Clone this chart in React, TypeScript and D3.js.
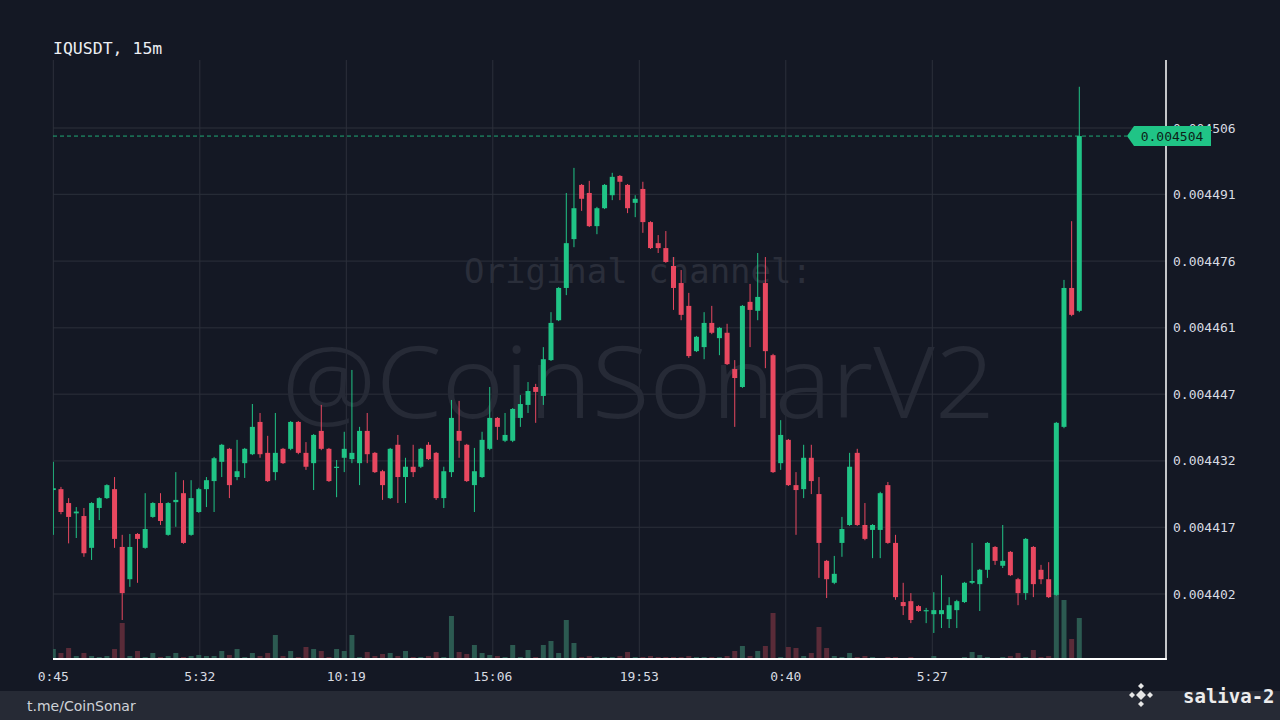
import React from "react";
import * as d3 from "d3";

// ---------------- data ----------------
const symbolTitle = "IQUSDT, 15m";
const startTime = "2024-01-01T00:45:00Z";
const intervalMinutes = 15;

const opens = [
  4425.2e-6, 4425.4e-6, 4422.3e-6, 4420.0e-6, 4419.4e-6, 4412.3e-6, 4421.2e-6, 4423.4e-6, 4425.4e-6, 4412.5e-6,
  4405.3e-6, 4415.4e-6, 4412.3e-6, 4419.2e-6, 4422.3e-6, 4415.2e-6, 4422.5e-6, 4424.5e-6, 4415.2e-6, 4420.3e-6,
  4425.4e-6, 4427.2e-6, 4431.5e-6, 4434.4e-6, 4428.1e-6, 4431.2e-6, 4433.2e-6, 4440.4e-6, 4433.5e-6, 4429.2e-6,
  4434.4e-6, 4434.4e-6, 4440.4e-6, 4433.5e-6, 4431.2e-6, 4438.4e-6, 4434.4e-6, 4430.3e-6, 4432.4e-6, 4432.1e-6,
  4431.2e-6, 4438.4e-6, 4433.5e-6, 4429.4e-6, 4423.4e-6, 4435.3e-6, 4428.1e-6, 4430.4e-6, 4430.4e-6, 4435.3e-6,
  4433.5e-6, 4423.4e-6, 4429.2e-6, 4438.4e-6, 4435.3e-6, 4426.3e-6, 4428.1e-6, 4434.4e-6, 4441.3e-6, 4436.2e-6,
  4436.2e-6, 4441.3e-6, 4444.2e-6, 4448.2e-6, 4446.2e-6, 4454.2e-6, 4463.1e-6, 4470.3e-6, 4481.2e-6, 4493.3e-6,
  4491.5e-6, 4484.1e-6, 4488.1e-6, 4491.0e-6, 4495.3e-6, 4493.3e-6, 4489.3e-6, 4492.4e-6, 4485.0e-6, 4480.3e-6,
  4479.2e-6, 4475.2e-6, 4471.4e-6, 4466.3e-6, 4456.2e-6, 4457.1e-6, 4462.5e-6, 4459.1e-6, 4460.3e-6, 4452.2e-6,
  4448.2e-6, 4467.2e-6, 4465.2e-6, 4471.4e-6, 4455.3e-6, 4431.2e-6, 4436.4e-6, 4426.3e-6, 4425.4e-6, 4432.4e-6,
  4424.3e-6, 4409.4e-6, 4404.5e-6, 4413.4e-6, 4417.4e-6, 4433.5e-6, 4417.4e-6, 4416.3e-6, 4416.3e-6, 4426.3e-6,
  4413.4e-6, 4400.2e-6, 4400.4e-6, 4399.3e-6, 4398.2e-6, 4397.5e-6, 4397.5e-6, 4396.4e-6, 4398.4e-6, 4400.2e-6,
  4404.5e-6, 4404.2e-6, 4407.4e-6, 4412.5e-6, 4408.3e-6, 4411.4e-6, 4405.3e-6, 4402.2e-6, 4412.5e-6, 4407.4e-6,
  4405.3e-6, 4401.8e-6, 4439.3e-6, 4470.3e-6, 4465.2e-6,
];

const highs = [
  4431.5e-6, 4425.9e-6, 4423.4e-6, 4421.4e-6, 4421.2e-6, 4422.5e-6, 4423.6e-6, 4426.5e-6, 4428.1e-6, 4415.2e-6,
  4415.4e-6, 4415.6e-6, 4424.5e-6, 4422.5e-6, 4424.5e-6, 4422.5e-6, 4429.2e-6, 4427.4e-6, 4427.4e-6, 4425.7e-6,
  4428.1e-6, 4432.6e-6, 4435.5e-6, 4434.6e-6, 4436.4e-6, 4434.6e-6, 4444.4e-6, 4442.4e-6, 4437.3e-6, 4442.4e-6,
  4434.6e-6, 4440.6e-6, 4440.6e-6, 4435.9e-6, 4437.7e-6, 4444.2e-6, 4434.6e-6, 4431.9e-6, 4438.2e-6, 4452.0e-6,
  4439.3e-6, 4442.4e-6, 4433.7e-6, 4429.7e-6, 4434.6e-6, 4437.5e-6, 4432.4e-6, 4435.3e-6, 4434.6e-6, 4435.9e-6,
  4433.7e-6, 4430.4e-6, 4445.3e-6, 4445.1e-6, 4435.5e-6, 4434.6e-6, 4438.2e-6, 4448.2e-6, 4441.5e-6, 4442.4e-6,
  4443.5e-6, 4446.4e-6, 4449.3e-6, 4448.9e-6, 4457.1e-6, 4464.9e-6, 4470.5e-6, 4491.5e-6, 4497.1e-6, 4493.5e-6,
  4494.2e-6, 4488.4e-6, 4493.5e-6, 4496.0e-6, 4495.5e-6, 4493.5e-6, 4491.0e-6, 4494.0e-6, 4485.2e-6, 4482.1e-6,
  4483.0e-6, 4477.2e-6, 4474.3e-6, 4469.2e-6, 4459.6e-6, 4464.9e-6, 4466.3e-6, 4461.6e-6, 4462.3e-6, 4454.2e-6,
  4466.5e-6, 4471.2e-6, 4478.1e-6, 4477.2e-6, 4455.6e-6, 4440.8e-6, 4436.6e-6, 4429.2e-6, 4435.3e-6, 4435.3e-6,
  4428.1e-6, 4409.6e-6, 4410.5e-6, 4419.2e-6, 4433.5e-6, 4434.4e-6, 4422.3e-6, 4417.6e-6, 4424.8e-6, 4427.0e-6,
  4415.2e-6, 4404.5e-6, 4402.2e-6, 4399.5e-6, 4398.9e-6, 4402.4e-6, 4406.2e-6, 4401.3e-6, 4400.7e-6, 4404.7e-6,
  4413.4e-6, 4407.6e-6, 4413.6e-6, 4412.7e-6, 4417.4e-6, 4411.6e-6, 4405.6e-6, 4414.5e-6, 4412.7e-6, 4408.5e-6,
  4409.1e-6, 4440.4e-6, 4472.1e-6, 4485.2e-6, 4515.2e-6,
];

const lows = [
  4415.2e-6, 4419.8e-6, 4413.3e-6, 4414.5e-6, 4410.3e-6, 4409.6e-6, 4418.5e-6, 4423.2e-6, 4412.3e-6, 4396.2e-6,
  4403.6e-6, 4404.5e-6, 4412.1e-6, 4419.0e-6, 4417.4e-6, 4415.0e-6, 4417.0e-6, 4413.2e-6, 4415.0e-6, 4420.1e-6,
  4421.4e-6, 4420.3e-6, 4428.1e-6, 4423.4e-6, 4427.4e-6, 4427.9e-6, 4433.0e-6, 4432.4e-6, 4427.0e-6, 4427.4e-6,
  4431.0e-6, 4434.1e-6, 4433.2e-6, 4429.7e-6, 4425.2e-6, 4434.1e-6, 4427.0e-6, 4423.6e-6, 4429.2e-6, 4431.2e-6,
  4426.3e-6, 4431.2e-6, 4429.0e-6, 4423.0e-6, 4423.2e-6, 4422.3e-6, 4422.3e-6, 4428.1e-6, 4430.1e-6, 4431.9e-6,
  4423.0e-6, 4421.2e-6, 4428.1e-6, 4432.4e-6, 4427.0e-6, 4420.3e-6, 4427.9e-6, 4434.1e-6, 4436.4e-6, 4435.9e-6,
  4435.9e-6, 4439.3e-6, 4442.4e-6, 4440.2e-6, 4444.2e-6, 4454.0e-6, 4462.9e-6, 4468.7e-6, 4479.4e-6, 4487.5e-6,
  4483.9e-6, 4482.3e-6, 4487.9e-6, 4489.9e-6, 4489.9e-6, 4487.0e-6, 4486.1e-6, 4482.6e-6, 4479.0e-6, 4478.1e-6,
  4475.9e-6, 4465.4e-6, 4463.1e-6, 4454.7e-6, 4456.0e-6, 4454.4e-6, 4460.0e-6, 4455.3e-6, 4453.1e-6, 4439.3e-6,
  4448.0e-6, 4457.1e-6, 4463.1e-6, 4452.4e-6, 4429.0e-6, 4429.7e-6, 4426.1e-6, 4415.2e-6, 4423.4e-6, 4424.3e-6,
  4405.6e-6, 4401.1e-6, 4404.2e-6, 4410.3e-6, 4417.2e-6, 4417.2e-6, 4414.0e-6, 4410.0e-6, 4410.0e-6, 4413.2e-6,
  4400.7e-6, 4397.3e-6, 4395.5e-6, 4398.0e-6, 4395.5e-6, 4393.3e-6, 4394.4e-6, 4394.4e-6, 4394.4e-6, 4400.0e-6,
  4404.2e-6, 4398.2e-6, 4405.6e-6, 4408.5e-6, 4407.8e-6, 4406.0e-6, 4399.5e-6, 4400.7e-6, 4401.3e-6, 4404.2e-6,
  4401.1e-6, 4401.6e-6, 4439.0e-6, 4464.0e-6, 4464.9e-6,
];

const closes = [
  4425.6e-6, 4420.3e-6, 4419.2e-6, 4420.4e-6, 4411.1e-6, 4422.3e-6, 4423.4e-6, 4426.3e-6, 4414.3e-6, 4402.2e-6,
  4412.5e-6, 4414.3e-6, 4416.5e-6, 4422.3e-6, 4418.3e-6, 4422.3e-6, 4423.0e-6, 4413.4e-6, 4423.4e-6, 4425.4e-6,
  4427.4e-6, 4432.3e-6, 4435.3e-6, 4426.3e-6, 4429.4e-6, 4434.4e-6, 4439.3e-6, 4433.2e-6, 4427.2e-6, 4433.5e-6,
  4431.2e-6, 4440.4e-6, 4433.5e-6, 4430.4e-6, 4437.5e-6, 4434.4e-6, 4427.2e-6, 4430.4e-6, 4434.4e-6, 4433.5e-6,
  4438.4e-6, 4433.2e-6, 4429.2e-6, 4426.3e-6, 4434.4e-6, 4428.1e-6, 4430.4e-6, 4429.2e-6, 4434.4e-6, 4432.1e-6,
  4423.4e-6, 4429.4e-6, 4441.3e-6, 4436.2e-6, 4427.2e-6, 4429.4e-6, 4436.4e-6, 4441.3e-6, 4439.3e-6, 4437.5e-6,
  4443.3e-6, 4444.4e-6, 4447.3e-6, 4447.1e-6, 4454.4e-6, 4462.5e-6, 4470.3e-6, 4480.3e-6, 4488.1e-6, 4490.2e-6,
  4484.1e-6, 4488.1e-6, 4493.3e-6, 4495.1e-6, 4494.0e-6, 4488.1e-6, 4490.2e-6, 4485.0e-6, 4479.2e-6, 4479.2e-6,
  4476.1e-6, 4470.3e-6, 4464.3e-6, 4455.1e-6, 4459.4e-6, 4462.5e-6, 4460.3e-6, 4461.4e-6, 4453.3e-6, 4450.2e-6,
  4466.3e-6, 4465.4e-6, 4468.3e-6, 4456.2e-6, 4429.2e-6, 4437.5e-6, 4426.3e-6, 4425.2e-6, 4432.4e-6, 4427.2e-6,
  4413.4e-6, 4405.3e-6, 4406.5e-6, 4416.5e-6, 4430.4e-6, 4417.4e-6, 4414.3e-6, 4417.4e-6, 4424.5e-6, 4413.4e-6,
  4401.3e-6, 4399.3e-6, 4396.2e-6, 4398.2e-6, 4398.4e-6, 4398.4e-6, 4398.4e-6, 4399.5e-6, 4400.4e-6, 4404.5e-6,
  4404.9e-6, 4407.4e-6, 4413.4e-6, 4409.4e-6, 4409.4e-6, 4406.2e-6, 4402.2e-6, 4414.3e-6, 4404.2e-6, 4405.3e-6,
  4401.3e-6, 4440.2e-6, 4470.3e-6, 4464.3e-6, 4504.2e-6,
];

const volumes = [
  100, 60, 110, 30, 60, 30, 20, 30, 100, 360,
  30, 80, 20, 60, 20, 30, 60, 20, 30, 40,
  30, 30, 80, 40, 100, 20, 60, 30, 60, 240,
  30, 80, 20, 120, 100, 80, 20, 100, 80, 240,
  20, 70, 30, 50, 60, 30, 80, 20, 20, 30,
  70, 20, 430, 70, 50, 140, 60, 40, 30, 20,
  140, 20, 90, 20, 140, 180, 60, 390, 160, 20,
  30, 20, 20, 20, 30, 70, 20, 20, 30, 20,
  20, 20, 20, 30, 20, 20, 20, 20, 30, 80,
  130, 30, 80, 130, 460, 20, 120, 110, 30, 60,
  320, 110, 30, 20, 60, 20, 30, 20, 10, 20,
  20, 10, 20, 10, 10, 30, 10, 10, 10, 20,
  70, 40, 20, 10, 20, 30, 60, 20, 90, 20,
  30, 670, 590, 200, 410,
];

const priceTicks = [0.004402, 0.0044169, 0.0044317, 0.0044466, 0.0044614, 0.0044763, 0.0044912, 0.004506];
const timeTicks = [
  "2024-01-01T00:45:00Z",
  "2024-01-01T05:32:00Z",
  "2024-01-01T10:19:00Z",
  "2024-01-01T15:06:00Z",
  "2024-01-01T19:53:00Z",
  "2024-01-02T00:40:00Z",
  "2024-01-02T05:27:00Z",
];
const watermarkSmall = "Original channel:";
const watermarkLarge = "@CoinSonarV2";
const footerLink = "t.me/CoinSonar";
const footerBrand = "saliva-2";

// ---------------- style ----------------
const W = 1280;
const H = 720;
const BG = "#141824";
const FOOTER_BG = "#262a35";
const GRID = "#2c303b";
const UP = "#20c486";
const DOWN = "#e84860";
const UP_VOL = "#2c5a51";
const DOWN_VOL = "#5a2b38";
const TEXT = "#d8dbe2";
const MONO = "'DejaVu Sans Mono', 'Liberation Mono', monospace";

const plotLeft = 53;
const plotRight = 1166;
const plotTop = 60;
const plotBottom = 659;

export default function App() {
  const t0 = new Date(startTime).getTime();
  const times = opens.map((_, i) => new Date(t0 + i * intervalMinutes * 60000));
  const x = d3.scaleTime().domain([times[0], times[times.length - 1]]).range([53.3, 1079.3]);
  const y = d3.scaleLinear().domain([priceTicks[0], priceTicks[priceTicks.length - 1]]).range([594, 128]);
  const yVol = d3.scaleLinear().domain([0, 1000]).range([plotBottom, plotBottom - 100]);
  const fmtTime = d3.utcFormat("%-H:%M");
  const tickDates = timeTicks.map((s) => new Date(s));
  const bodyW = 5;

  const last = closes[closes.length - 1];
  const yLast = y(last);

  return (
    <svg
      width={W}
      height={H}
      style={{ position: "absolute", left: 0, top: 0, display: "block" }}
      xmlns="http://www.w3.org/2000/svg"
    >
      <defs>
        <clipPath id="plotClip">
          <rect x={plotLeft} y={plotTop} width={plotRight - plotLeft} height={plotBottom - plotTop} />
        </clipPath>
      </defs>
      <rect x={0} y={0} width={W} height={H} fill={BG} />
      <rect x={0} y={691} width={W} height={H - 691} fill={FOOTER_BG} />

      {/* grid */}
      {priceTicks.map((p, i) => (
        <line key={"hg" + i} x1={plotLeft} x2={plotRight} y1={y(p)} y2={y(p)} stroke={GRID} strokeWidth={1} />
      ))}
      {tickDates.map((d, i) => (
        <line key={"vg" + i} x1={x(d)} x2={x(d)} y1={plotTop} y2={plotBottom} stroke={GRID} strokeWidth={1} />
      ))}

      {/* watermark */}
      <text x={638} y={283} textAnchor="middle" fontFamily={MONO} fontSize={34} fill="#2a2e3a">
        {watermarkSmall}
      </text>
      <text
        x={282}
        y={418}
        fontFamily="'Noto Sans', 'DejaVu Sans', sans-serif"
        fontSize={100}
        fontWeight={300}
        textLength={713}
        lengthAdjust="spacingAndGlyphs"
        fill="#262a36"
      >
        {watermarkLarge}
      </text>

      <g clipPath="url(#plotClip)">
        {/* volumes */}
        {volumes.map((v, i) => {
          const up = closes[i] >= opens[i];
          const top = yVol(v);
          return (
            <rect
              key={"v" + i}
              x={x(times[i]) - bodyW / 2}
              y={top}
              width={bodyW}
              height={Math.max(1, plotBottom - top)}
              fill={up ? UP_VOL : DOWN_VOL}
            />
          );
        })}
        {/* candles */}
        {opens.map((o, i) => {
          const c = closes[i];
          const up = c >= o;
          const col = up ? UP : DOWN;
          const cx = x(times[i]);
          const yTop = y(Math.max(o, c));
          const yBot = y(Math.min(o, c));
          return (
            <g key={"c" + i}>
              <line x1={cx} x2={cx} y1={y(highs[i])} y2={y(lows[i])} stroke={col} strokeWidth={1} />
              <rect x={cx - bodyW / 2} y={yTop} width={bodyW} height={Math.max(1.2, yBot - yTop)} fill={col} />
            </g>
          );
        })}
      </g>

      {/* last price line */}
      <line
        x1={plotLeft}
        x2={1127}
        y1={yLast}
        y2={yLast}
        stroke={UP}
        strokeWidth={1}
        strokeDasharray="4,3"
        opacity={0.85}
      />

      {/* axes */}
      <line x1={plotRight} x2={plotRight} y1={plotTop} y2={plotBottom + 1} stroke="#ffffff" strokeWidth={1.5} />
      <line x1={plotLeft} x2={plotRight + 0.75} y1={plotBottom} y2={plotBottom} stroke="#ffffff" strokeWidth={2} />

      {priceTicks.map((p, i) => (
        <text key={"yl" + i} x={1173} y={y(p) + 4.5} fontFamily={MONO} fontSize={13} fill={TEXT}>
          {p.toFixed(6)}
        </text>
      ))}
      {tickDates.map((d, i) => (
        <text key={"xl" + i} x={x(d)} y={681} textAnchor="middle" fontFamily={MONO} fontSize={13} fill={TEXT}>
          {fmtTime(d)}
        </text>
      ))}

      {/* last price tag */}
      <path
        d={`M1127,${yLast} L1134,${yLast - 10} L1211,${yLast - 10} L1211,${yLast + 10} L1134,${yLast + 10} Z`}
        fill={UP}
      />
      <text x={1172} y={yLast + 4.5} textAnchor="middle" fontFamily={MONO} fontSize={13} fill="#0d1f18">
        {last.toFixed(6)}
      </text>

      {/* title */}
      <text x={53} y={54} fontFamily={MONO} fontSize={16.5} fill="#eceef2">
        {symbolTitle}
      </text>

      {/* footer */}
      <text x={27} y={711} fontFamily="'DejaVu Sans', sans-serif" fontSize={14} fill="#cfd2d8">
        {footerLink}
      </text>
      <g transform="translate(1141,695)" fill="#e6e6e6">
        <path d="M0,-5 L5,0 L0,5 L-5,0 Z" />
        <path d="M0,-12 L3,-9 L0,-6 L-3,-9 Z" />
        <path d="M0,12 L3,9 L0,6 L-3,9 Z" />
        <path d="M-9,-3 L-6,0 L-9,3 L-12,0 Z" />
        <path d="M9,-3 L12,0 L9,3 L6,0 Z" />
      </g>
      <text x={1183} y={703} fontFamily={MONO} fontSize={19} fontWeight="bold" fill="#ececec">
        {footerBrand}
      </text>
    </svg>
  );
}
